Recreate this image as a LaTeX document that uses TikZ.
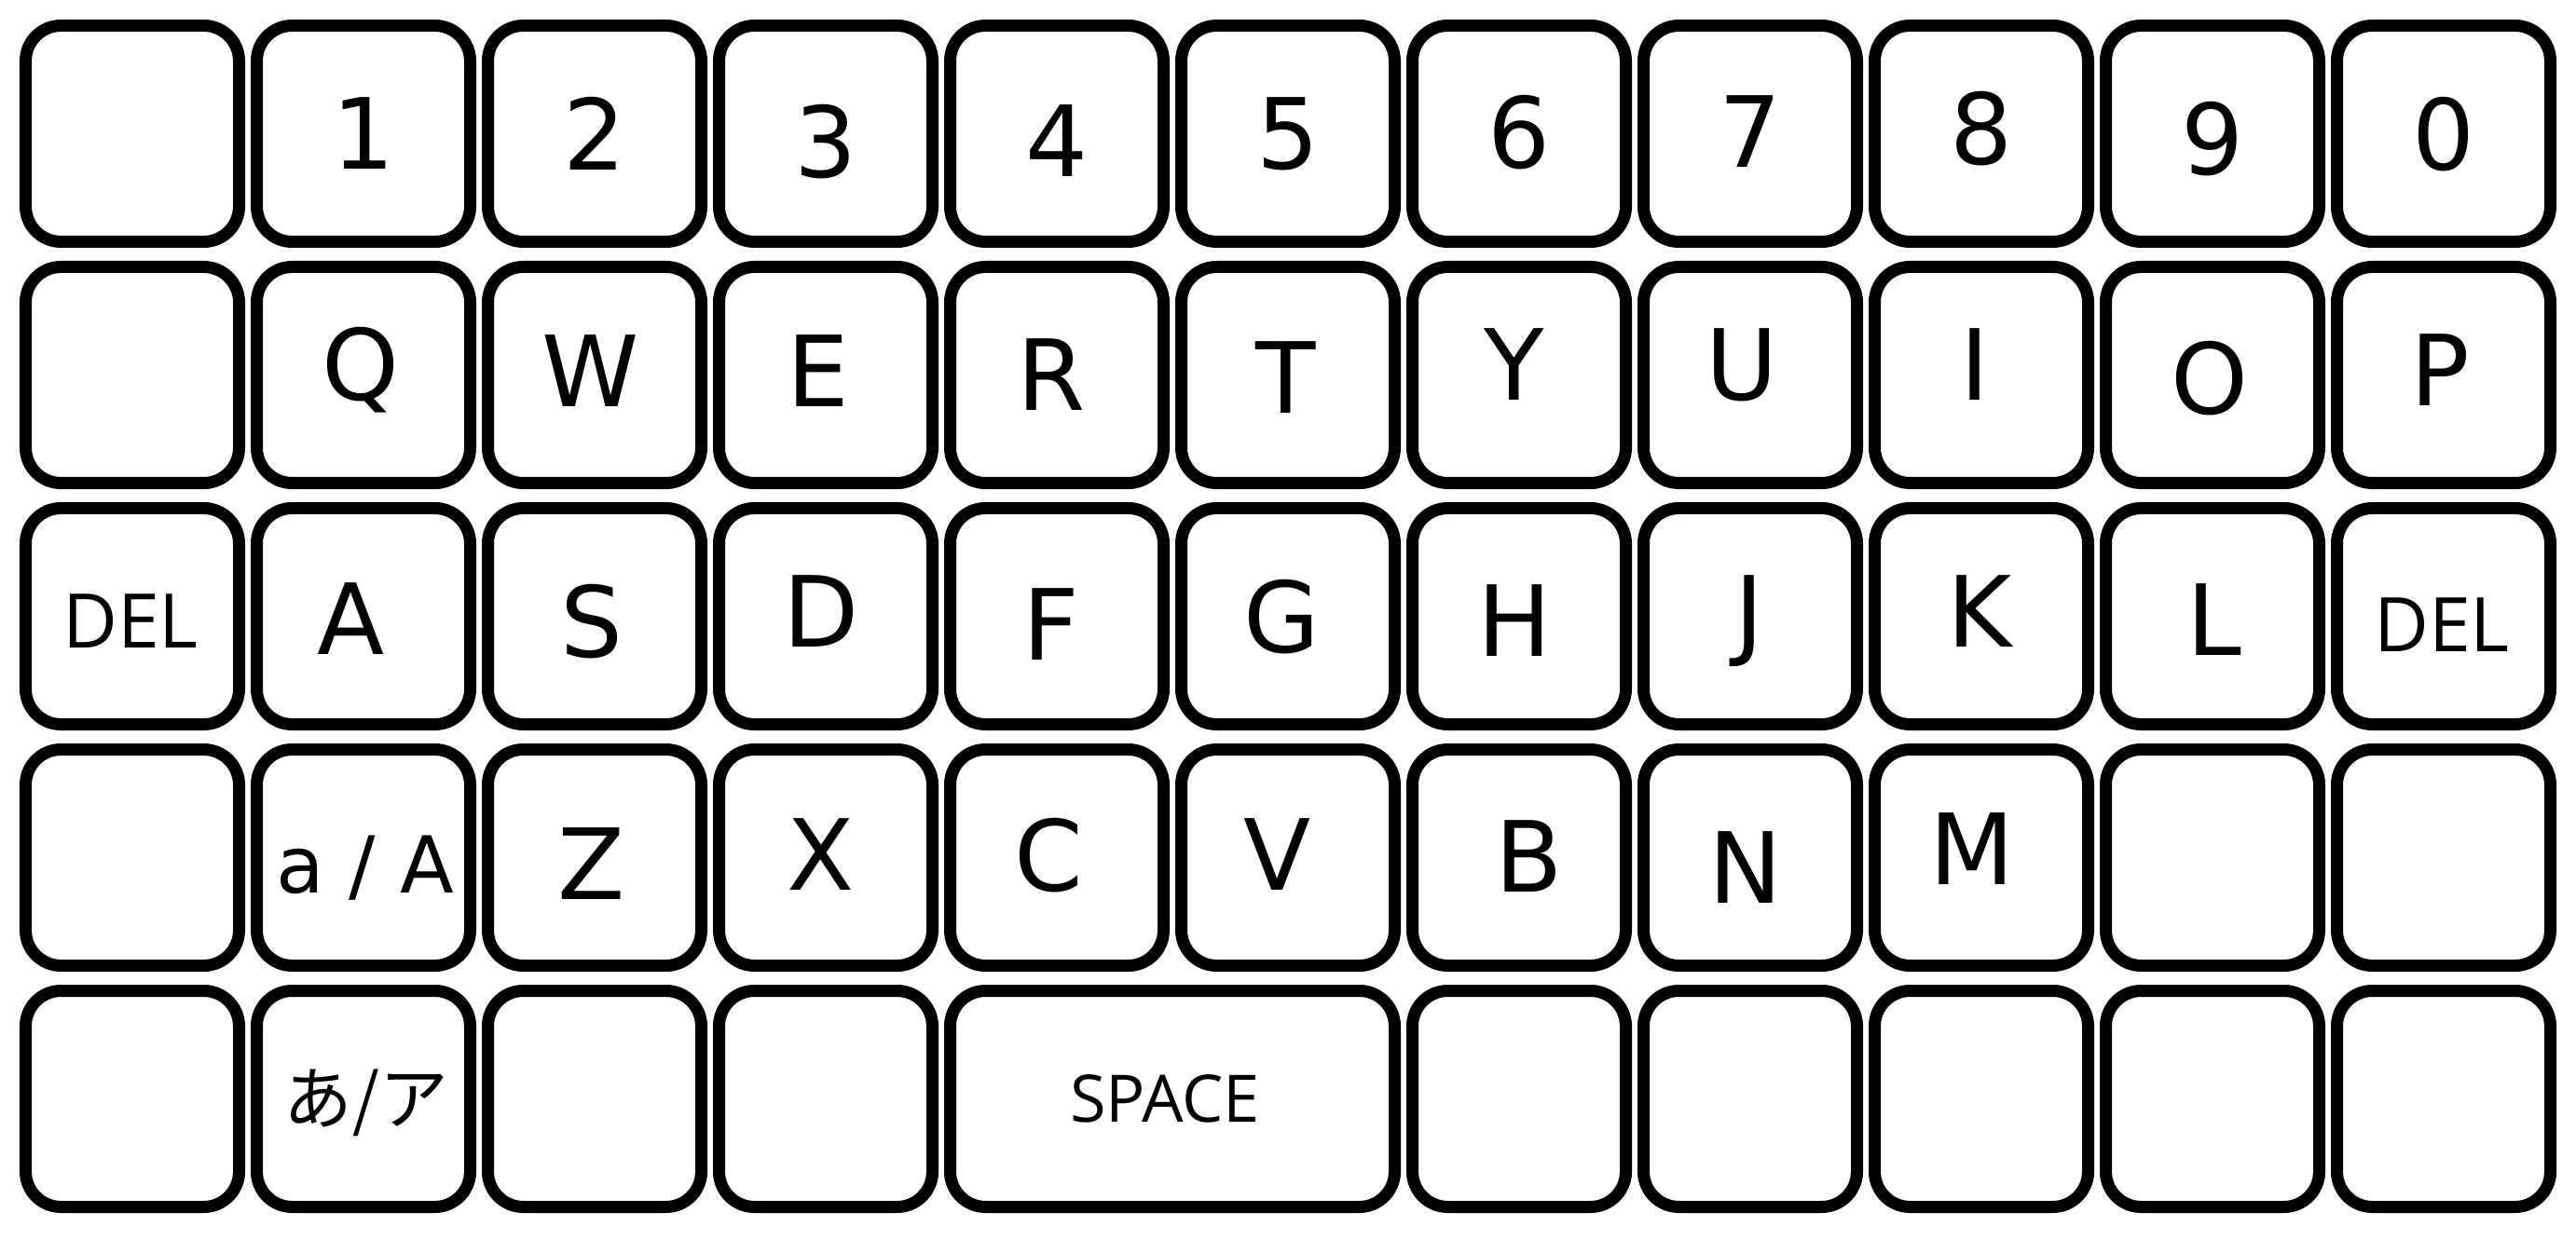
\documentclass[tikz,border=0pt]{standalone}
\usepackage{fontspec}
\setmainfont{DejaVu Sans}
\newfontfamily\delfont{Open Sans}
\newfontfamily\jpfont{Noto Sans CJK JP}
\usetikzlibrary{calc}
\begin{document}
\begin{tikzpicture}[x=1cm,y=1cm,
  keybox/.style={draw=black, line width=0.13cm, rounded corners=0.38cm,
    minimum width=2.29cm, minimum height=2.32cm, inner sep=0pt, fill=white},
  keylbl/.style={inner sep=0pt, text depth=0pt, font=\fontsize{30pt}{30pt}\selectfont},
  smalllbl/.style={inner sep=0pt, text depth=0pt, font=\fontsize{24pt}{24pt}\selectfont},
  dellbl/.style={inner sep=0pt, text depth=0pt, font=\delfont\fontsize{23pt}{23pt}\selectfont},
  spacelbl/.style={inner sep=0pt, text depth=0pt, font=\delfont\fontsize{20pt}{20pt}\selectfont},
  jplbl/.style={inner sep=0pt, font=\jpfont\fontsize{21pt}{21pt}\selectfont}]
\useasboundingbox[fill=white] (0,0) rectangle (27.64,-13.31);
% keys, rows 0-3
\foreach \r in {0,...,3}{
  \foreach \c in {0,...,10}{
    \node[keybox] (k-\r-\c) at ({1.42+2.48*\c},{-1.435-2.59*\r}) {};
  }
}
% row 4
\foreach \c in {0,1,2,3,6,7,8,9,10}{
  \node[keybox] (k-4-\c) at ({1.42+2.48*\c},{-1.435-2.59*4}) {};
}
\node[keybox, minimum width=4.77cm] (k-4-space) at (12.58,{-1.435-2.59*4}) {};
% labels row 0
\foreach \c/\t/\dx/\dy in {1/1/0/0, 2/2/0/0, 3/3/0/8, 4/4/0/8, 5/5/0/0, 6/6/0/-2, 7/7/0/-2, 8/8/0/-6, 9/9/0/5, 10/0/0/0}{
  \node[keylbl] (l-0-\c) at ($(k-0-\c.center)+(\dx/100,-\dy/100)$) {\t};
}
% labels row 1
\foreach \c/\t/\dx/\dy in {1/Q/-3/-12, 2/W/-4/-4, 3/E/-8/-4, 4/R/-6/0, 5/T/-2/3, 6/Y/-5/-11, 7/U/-9/-11, 8/I/-7/-11, 9/O/-3/3, 10/P/-4/-5}{
  \node[keylbl] (l-1-\c) at ($(k-1-\c.center)+(\dx/100,-\dy/100)$) {\t};
}
% labels row 2
\node[dellbl] (l-2-0) at ($(k-2-0.center)+(-0.02,-0.05)$) {DEL};
\foreach \c/\t/\dx/\dy in {1/A/-13/3, 2/S/-3/5, 3/D/-5/-5, 4/F/-6/9, 5/G/-7/0, 6/H/-5/5, 7/J/-1/-5, 8/K/-2/-5, 9/L/2/4}{
  \node[keylbl] (l-2-\c) at ($(k-2-\c.center)+(\dx/100,-\dy/100)$) {\t};
}
\node[dellbl] (l-2-10) at ($(k-2-10.center)+(-0.02,-0.09)$) {DEL};
% labels row 3
\node[smalllbl] (l-3-1) at ($(k-3-1.center)+(0.02,-0.07)$) {a / A};
\foreach \c/\t/\dx/\dy in {2/Z/-3/7, 3/X/-5/-3, 4/C/-9/-3, 5/V/-11/-3, 6/B/11/-1, 7/N/-5/11, 8/M/-10/-9}{
  \node[keylbl] (l-3-\c) at ($(k-3-\c.center)+(\dx/100,-\dy/100)$) {\t};
}
% labels row 4
\node[jplbl] (l-4-1) at ($(k-4-1.center)+(0.03,-0.04)$) {あ/ア};
\node[spacelbl] (l-4-space) at ($(k-4-space.center)+(-0.08,0)$) {SPACE};
\end{tikzpicture}
\end{document}
